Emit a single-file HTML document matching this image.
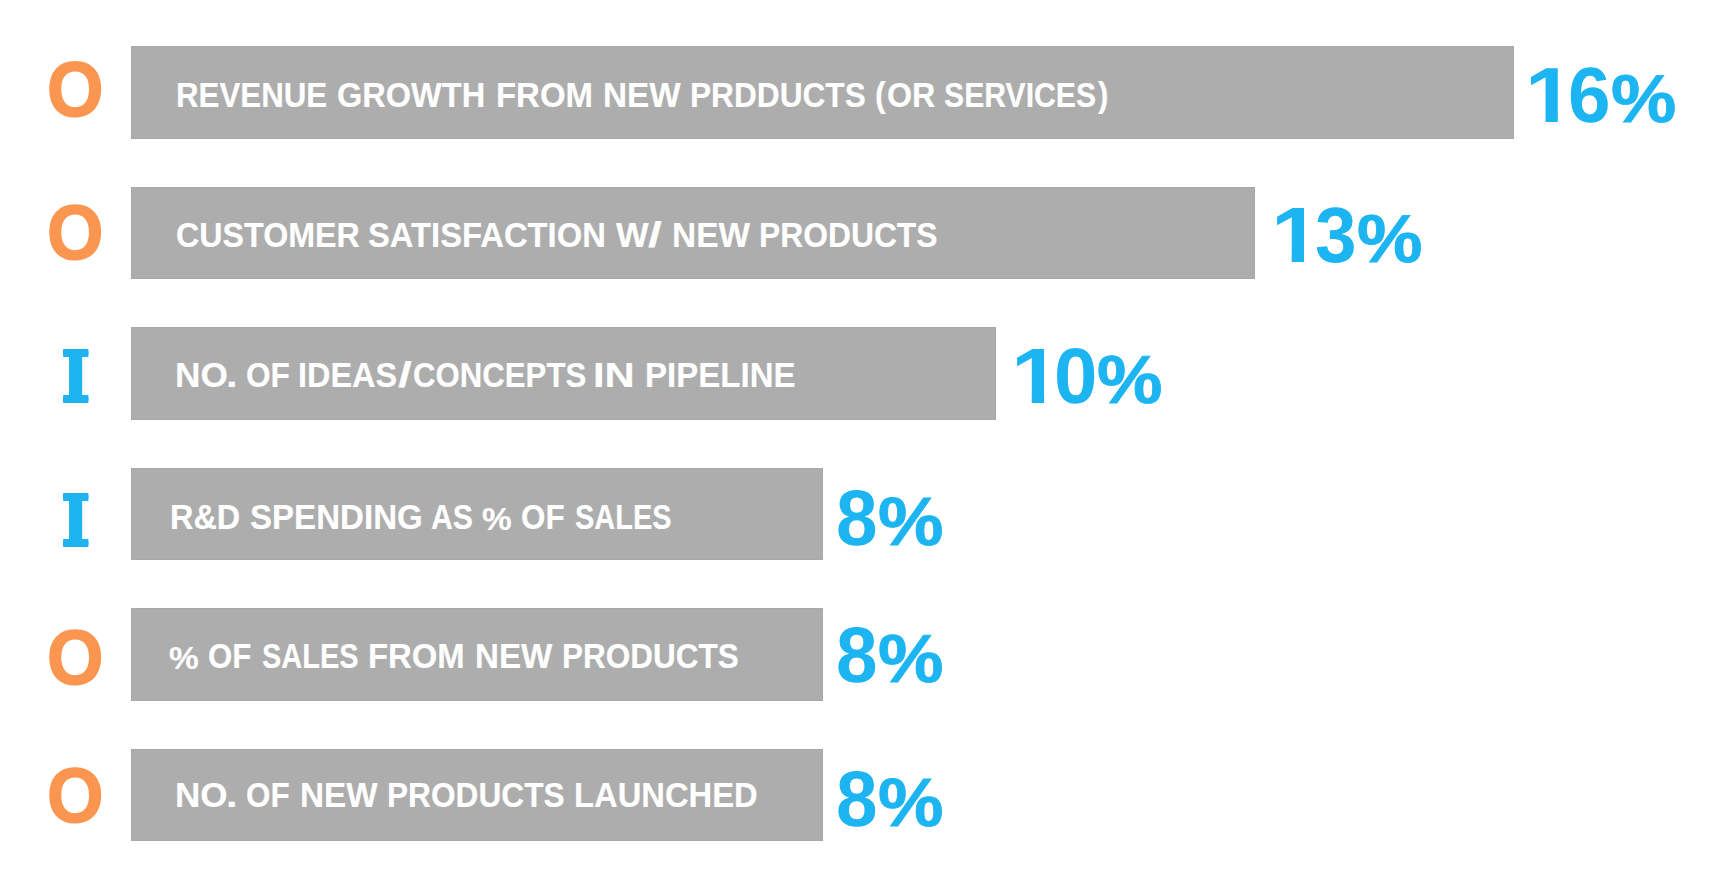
<!DOCTYPE html>
<html lang="en"><head><meta charset="utf-8"><title>Innovation metrics</title>
<style>
html,body{margin:0;padding:0;background:#fff}
body{position:relative;width:1723px;height:891px;overflow:hidden;font-family:'Liberation Sans',sans-serif;font-weight:700}
.bar{position:absolute;left:131px;background:#adadad;box-shadow:inset 0 0 0 1px #a8a8a8}
.w,.g{position:absolute;white-space:nowrap;line-height:1;transform-origin:0 0;display:block}
.w{color:#fff;font-size:34.74px;-webkit-text-stroke:0.15px #fff}
.g{text-rendering:geometricPrecision}
.o{color:#fb9650;font-family:'Liberation Sans',sans-serif}
.b{color:#1cb4f1}
.i{font-family:'DejaVu Serif','Liberation Serif',serif}
.p{font-family:'Liberation Sans',sans-serif}
</style></head>
<body>
<div class="row">
 <span class="g o" style="left:47.02px;top:51.97px;font-size:77.53px;transform:scaleX(0.9363);-webkit-text-stroke:1.551px #fb9650">O</span>
 <div class="bar" style="top:46px;width:1383px;height:93.00px"></div>
 <div class="label"><span class="w" style="left:175.57px;top:77.90px;transform:scaleX(0.9005)">REVENUE</span> <span class="w" style="left:337.31px;top:77.90px;transform:scaleX(0.9363)">GROWTH</span> <span class="w" style="left:495.98px;top:77.90px;transform:scaleX(0.9481)">FROM</span> <span class="w" style="left:603.37px;top:77.90px;transform:scaleX(0.9580)">NEW</span> <span class="w" style="left:690.41px;top:77.90px;transform:scaleX(0.9109)">PRDDUCTS</span> <span class="w" style="left:874.95px;top:77.90px;transform:scaleX(0.9231)">(</span><span class="w" style="left:887.15px;top:77.90px;transform:scaleX(0.9298)">OR</span> <span class="w" style="left:944.40px;top:77.90px;transform:scaleX(0.8691)">SERVICES</span><span class="w" style="left:1097.91px;top:77.90px;transform:scaleX(0.8990)">)</span></div>
 <div class="pct"><span class="g b" style="left:1524.66px;top:56.03px;font-size:78.25px;transform:scaleX(1.1289);clip-path:polygon(0 0,100% 0,100% 73.4%,66.8% 73.4%,66.8% 100%,41.8% 100%,41.8% 73.4%,0 73.4%)">1</span><span class="g b" style="left:1568.03px;top:56.03px;font-size:78.25px;transform:scaleX(0.9773)">6</span><span class="g b p" style="left:1611.23px;top:65.95px;font-size:67.74px;transform:scaleX(1.0835);-webkit-text-stroke:0.785px #1cb4f1">%</span></div>
</div>
<div class="row">
 <span class="g o" style="left:47.02px;top:194.98px;font-size:77.25px;transform:scaleX(0.9396);-webkit-text-stroke:1.545px #fb9650">O</span>
 <div class="bar" style="top:187px;width:1124px;height:92.00px"></div>
 <div class="label"><span class="w" style="left:175.54px;top:217.90px;transform:scaleX(0.9282)">CUSTOMER</span> <span class="w" style="left:368.19px;top:217.90px;transform:scaleX(0.9431)">SATISFACTION</span> <span class="w" style="left:615.76px;top:217.90px;transform:scaleX(0.9960)">W</span><span class="w" style="left:648.27px;top:217.90px;transform:scaleX(1.4368)">/</span> <span class="w" style="left:672.06px;top:217.90px;transform:scaleX(0.9622)">NEW</span> <span class="w" style="left:759.47px;top:217.90px;transform:scaleX(0.9158)">PRODUCTS</span></div>
 <div class="pct"><span class="g b" style="left:1270.82px;top:195.98px;font-size:78.55px;transform:scaleX(1.1331);clip-path:polygon(0 0,100% 0,100% 73.4%,66.8% 73.4%,66.8% 100%,41.8% 100%,41.8% 73.4%,0 73.4%)">1</span><span class="g b" style="left:1314.92px;top:195.98px;font-size:78.55px;transform:scaleX(0.9494)">3</span><span class="g b p" style="left:1357.23px;top:206.06px;font-size:67.87px;transform:scaleX(1.0848);-webkit-text-stroke:0.787px #1cb4f1">%</span></div>
</div>
<div class="row">
 <span class="g b i" style="left:59.71px;top:343.98px;font-size:68.63px;transform:scaleX(0.9792);text-shadow:0 2px 0 #1cb4f1,0 -2px 0 #1cb4f1">I</span>
 <div class="bar" style="top:327px;width:865px;height:93.00px"></div>
 <div class="label"><span class="w" style="left:175.32px;top:357.90px;transform:scaleX(1.0132)">NO</span><span class="w" style="left:226.30px;top:357.90px;transform:scaleX(1.2020)">.</span> <span class="w" style="left:246.16px;top:357.90px;transform:scaleX(0.9097)">OF</span> <span class="w" style="left:298.35px;top:357.90px;transform:scaleX(0.9345)">IDEAS</span><span class="w" style="left:397.87px;top:357.90px;transform:scaleX(1.4357)">/</span><span class="w" style="left:412.65px;top:357.90px;transform:scaleX(0.8976)">CONCEPTS</span> <span class="w" style="left:593.34px;top:357.90px;transform:scaleX(1.2017)">IN</span> <span class="w" style="left:644.79px;top:357.90px;transform:scaleX(0.9510)">PIPELINE</span></div>
 <div class="pct"><span class="g b" style="left:1010.80px;top:336.97px;font-size:78.62px;transform:scaleX(1.1342);clip-path:polygon(0 0,100% 0,100% 73.4%,66.8% 73.4%,66.8% 100%,41.8% 100%,41.8% 73.4%,0 73.4%)">1</span><span class="g b" style="left:1053.98px;top:336.97px;font-size:78.62px;transform:scaleX(0.9935)">0</span><span class="g b p" style="left:1097.43px;top:346.04px;font-size:68.01px;transform:scaleX(1.0825);-webkit-text-stroke:0.789px #1cb4f1">%</span></div>
</div>
<div class="row">
 <span class="g b i" style="left:59.71px;top:487.99px;font-size:68.77px;transform:scaleX(0.9772);text-shadow:0 2px 0 #1cb4f1,0 -2px 0 #1cb4f1">I</span>
 <div class="bar" style="top:468px;width:692px;height:92.00px"></div>
 <div class="label"><span class="w" style="left:169.50px;top:499.90px;transform:scaleX(0.9331)">R&amp;D</span> <span class="w" style="left:249.55px;top:499.90px;transform:scaleX(0.9523)">SPENDING</span> <span class="w" style="left:431.05px;top:499.90px;transform:scaleX(0.8718)">AS</span> <span class="w" style="left:482.26px;top:504.07px;font-size:31.05px;transform:scaleX(1.0755)">%</span> <span class="w" style="left:521.42px;top:499.90px;transform:scaleX(0.9032)">OF</span> <span class="w" style="left:574.99px;top:499.90px;transform:scaleX(0.8333)">SALES</span></div>
 <div class="pct"><span class="g b" style="left:835.72px;top:479.04px;font-size:78.84px;transform:scaleX(0.9465)">8</span><span class="g b p" style="left:878.43px;top:488.05px;font-size:68.29px;transform:scaleX(1.0781);-webkit-text-stroke:0.792px #1cb4f1">%</span></div>
</div>
<div class="row">
 <span class="g o" style="left:47.02px;top:620.00px;font-size:77.25px;transform:scaleX(0.9396);-webkit-text-stroke:1.545px #fb9650">O</span>
 <div class="bar" style="top:608px;width:692px;height:93.00px"></div>
 <div class="label"><span class="w" style="left:168.78px;top:643.07px;font-size:31.05px;transform:scaleX(1.0763)">%</span> <span class="w" style="left:208.22px;top:638.90px;transform:scaleX(0.8979)">OF</span> <span class="w" style="left:261.54px;top:638.90px;transform:scaleX(0.8337)">SALES</span> <span class="w" style="left:367.81px;top:638.90px;transform:scaleX(0.9450)">FROM</span> <span class="w" style="left:474.86px;top:638.90px;transform:scaleX(0.9548)">NEW</span> <span class="w" style="left:561.86px;top:638.90px;transform:scaleX(0.9076)">PRODUCTS</span></div>
 <div class="pct"><span class="g b" style="left:835.72px;top:615.97px;font-size:78.62px;transform:scaleX(0.9491)">8</span><span class="g b p" style="left:878.43px;top:624.98px;font-size:68.08px;transform:scaleX(1.0814);-webkit-text-stroke:0.789px #1cb4f1">%</span></div>
</div>
<div class="row">
 <span class="g o" style="left:47.02px;top:757.96px;font-size:77.39px;transform:scaleX(0.9380);-webkit-text-stroke:1.548px #fb9650">O</span>
 <div class="bar" style="top:749px;width:692px;height:92.00px"></div>
 <div class="label"><span class="w" style="left:175.33px;top:777.90px;transform:scaleX(1.0087)">NO</span><span class="w" style="left:226.07px;top:777.90px;transform:scaleX(1.1980)">.</span> <span class="w" style="left:245.86px;top:777.90px;transform:scaleX(0.9056)">OF</span> <span class="w" style="left:299.75px;top:777.90px;transform:scaleX(0.9571)">NEW</span> <span class="w" style="left:386.70px;top:777.90px;transform:scaleX(0.9111)">PRODUCTS</span> <span class="w" style="left:574.08px;top:777.90px;transform:scaleX(0.9422)">LAUNCHED</span></div>
 <div class="pct"><span class="g b" style="left:835.72px;top:760.04px;font-size:78.84px;transform:scaleX(0.9465)">8</span><span class="g b p" style="left:878.43px;top:769.05px;font-size:68.29px;transform:scaleX(1.0781);-webkit-text-stroke:0.792px #1cb4f1">%</span></div>
</div>
</body></html>
